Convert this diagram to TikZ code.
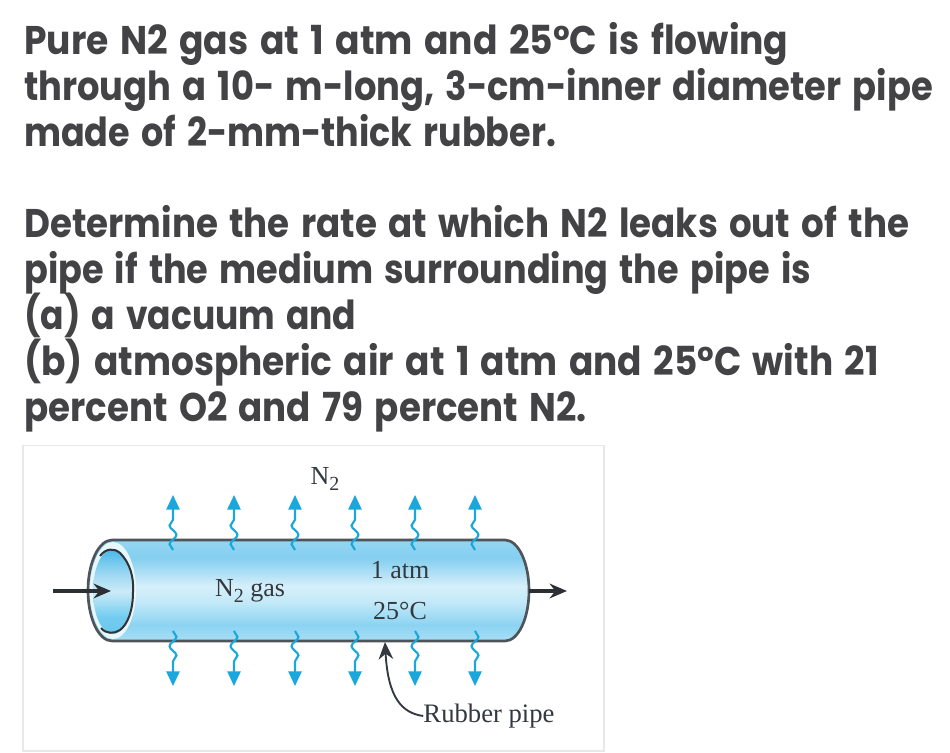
\documentclass[tikz,border=0pt]{standalone}
\usepackage{fontspec}
\setmainfont{Liberation Serif}
\newfontfamily\headfont{Poppins}[FakeStretch=0.885,WordSpace=1.5]
\usetikzlibrary{arrows.meta,decorations.pathmorphing,calc}
\definecolor{headcol}{HTML}{434345}
\definecolor{leak}{HTML}{1AA7DC}
\definecolor{labelcol}{HTML}{33393F}
\definecolor{wall}{HTML}{4F5458}
\definecolor{flowcol}{HTML}{2C3035}
\pgfdeclareverticalshading{pipeshade}{100bp}{
 color(0bp)=(white);
 color(25bp)=(white);
 rgb(25bp)=(0.66,0.87,0.96);
 rgb(33bp)=(0.55,0.83,0.95);
 rgb(44bp)=(0.76,0.91,0.97);
 rgb(52bp)=(0.84,0.94,0.98);
 rgb(66bp)=(0.52,0.81,0.94);
 rgb(75bp)=(0.58,0.84,0.95);
 color(75bp)=(white);
 color(100bp)=(white)
}
\pgfdeclareverticalshading{holeshade}{100bp}{
 color(0bp)=(white);
 color(25bp)=(white);
 rgb(25bp)=(0.42,0.78,0.93);
 rgb(35bp)=(0.45,0.80,0.94);
 rgb(50bp)=(0.80,0.92,0.97);
 rgb(60bp)=(0.62,0.85,0.95);
 rgb(75bp)=(0.28,0.72,0.91);
 color(75bp)=(white);
 color(100bp)=(white)
}
\newcommand{\subtwo}{\raisebox{-4.5pt}{\fontsize{15}{15}\selectfont 2}}
\tikzset{
 x=0.75pt,y=-0.75pt,
 headline/.style={anchor=base west,inner sep=0pt,text=headcol,transform shape,xscale=#1,font=\headfont\bfseries\fontsize{30}{36}\selectfont},
 figlabel/.style={inner sep=0pt,text=labelcol,font=\fontsize{19.5}{23}\selectfont},
 leakline/.style={draw=leak,line width=1.6pt,decorate,decoration={snake,amplitude=2.6pt,segment length=14pt,post length=4pt}},
 leakhead/.style={-{Triangle[length=11pt,width=10pt]},draw=leak,fill=leak,line width=1.2pt},
 flow/.style={-{Stealth[length=13pt,width=11pt]},draw=flowcol,fill=flowcol,line width=2.6pt},
 pointer/.style={-{Stealth[length=13pt,width=11pt]},draw=labelcol,line width=1.4pt},
}
\begin{document}
\begin{tikzpicture}
\useasboundingbox (0,0) rectangle (950,753);
\fill[white] (0,0) rectangle (950,753);
\node[headline=1.019] (l1) at (24,54) {Pure N2 gas at 1 atm and 25°C is flowing};
\node[headline=0.997] (l2) at (24,100) {through a 10- m-long, 3-cm-inner diameter pipe};
\node[headline=0.987] (l3) at (24,146) {made of 2-mm-thick rubber.};
\node[headline=1.007] (l4) at (24,237) {Determine the rate at which N2 leaks out of the};
\node[headline=0.99] (l5) at (24,283) {pipe if the medium surrounding the pipe is};
\node[headline=0.976] (l6) at (24,329) {(a) a vacuum and};
\node[headline=1.014] (l7) at (24,375) {(b) atmospheric air at 1 atm and 25°C with 21};
\node[headline=1.007] (l8) at (24,421) {percent O2 and 79 percent N2.};
\draw[black!9,line width=0.8pt] (23,445.5) rectangle (604,751);
% pipe
\path[shading=pipeshade]
  (112,540) -- (505,540) arc[start angle=-90,end angle=90,x radius=24,y radius=50.5]
  -- (112,641) arc[start angle=90,end angle=270,x radius=24,y radius=50.5] -- cycle;
\draw[draw=wall,line width=2pt]
  (112,641) -- (505,641) arc[start angle=90,end angle=-90,x radius=24,y radius=50.5] -- (112,540)
  arc[start angle=270,end angle=90,x radius=24,y radius=50.5];
% end opening
\fill[white!90!cyan] (113,590.5) ellipse[x radius=23,y radius=48.5];
\path[shading=holeshade] (113,591.5) ellipse[x radius=20,y radius=42.5];
\draw[draw=black!80,line width=1.5pt] (100,556) .. controls (106,548) and (114,548) .. (120,553) .. controls (130,563) and (134,577) .. (133,592) .. controls (133,610) and (128,624) .. (120,630) .. controls (114,634) and (106,634) .. (101,628);
% leaks
\foreach \n/\x in {a/173,b/234,c/295,d/355,e/415,f/475}{
  \coordinate (t\n s) at (\x,550); \coordinate (t\n m) at (\x,510); \coordinate (t\n e) at (\x,495);
  \coordinate (b\n s) at (\x,631); \coordinate (b\n m) at (\x,671); \coordinate (b\n e) at (\x,686);
  \draw[leakline] (t\n s) -- (t\n m);
  \draw[leakhead] (t\n m) -- (t\n e);
  \draw[leakline] (b\n s) -- (b\n m);
  \draw[leakhead] (b\n m) -- (b\n e);
}
% flow
\coordinate (fin) at (53,591); \coordinate (fintip) at (111,591);
\coordinate (fout) at (529,591); \coordinate (fouttip) at (567,591);
\draw[flow] (fin) -- (fintip);
\draw[flow] (fout) -- (fouttip);
% labels
\node[figlabel] (n2top) at (325,479) {N\subtwo};
\node[figlabel] (n2gas) at (250,591) {N\subtwo{} gas};
\node[figlabel] (atm) at (400,570) {1 atm};
\node[figlabel] (temp) at (400,611) {25°C};
\node[figlabel,font=\fontsize{20}{23}\selectfont] (rubber) at (489,716) {Rubber pipe};
\coordinate (pipewall) at (385,642);
\draw[pointer] (rubber.west) .. controls (402,713) and (388,698) .. (pipewall);
\end{tikzpicture}
\end{document}
